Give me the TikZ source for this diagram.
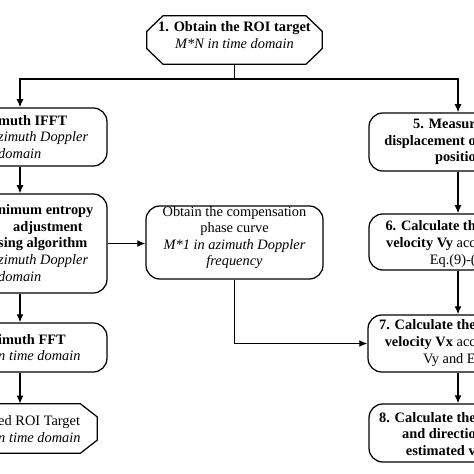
\documentclass[tikz,border=0pt]{standalone}
\usepackage{fontspec}
\setmainfont{Liberation Serif}
\usepackage{tikz}
\usetikzlibrary{arrows.meta,fit}

\tikzset{
  rbox/.style={draw, line width=1pt, rounded corners=11pt, inner sep=0pt},
  cbox/.style={inner sep=0pt},
  txt/.style={inner sep=0pt, font=\fontsize{11.5}{13.3}\selectfont},
  flow/.style={line width=1pt, -{Latex[length=6.5pt,width=5.5pt]}},
}
% outline with cut corners round a named node: name, dx, dy
\newcommand\chamferbox[3]{%
  \draw[line width=1pt] ([xshift=#2]#1.north west) -- ([xshift=-#2]#1.north east)
    -- ([yshift=-#3]#1.north east) -- ([yshift=#3]#1.south east)
    -- ([xshift=-#2]#1.south east) -- ([xshift=#2]#1.south west)
    -- ([yshift=#3]#1.south west) -- ([yshift=-#3]#1.north west) -- cycle;}

\begin{document}
\begin{tikzpicture}[x=0.8pt, y=-0.8pt]
      \useasboundingbox (0,0) rectangle (474,474);
      \clip (0,0) rectangle (474,474);
      % frames
      \node[cbox, txt, align=center, fit={(147,16) (322,64)}] (roi)
        {\textbf{1. Obtain the ROI target}\\\textit{M*N in time domain}};
      \chamferbox{roi}{13pt}{12.5pt}
      \node[rbox, fit={(-60,108) (107,166)}] (ifft) {};
      \node[rbox, fit={(-60,194) (107,293)}] (entropy) {};
      \node[rbox, fit={(-60,323) (107,372)}] (fft) {};
      \node[cbox, fit={(-60,404) (97,453)}] (focused) {};
      \chamferbox{focused}{13.5pt}{10.5pt}
      \node[rbox, txt, align=center, fit={(146,206) (323,279)}] (comp)
        {Obtain the compensation\\phase curve\\\textit{M*1 in azimuth Doppler}\\\textit{frequency}};
      \node[rbox, fit={(369,113) (540,171)}] (measure) {};
      \node[rbox, fit={(369,214) (540,270)}] (vy) {};
      \node[rbox, fit={(368,315) (540,372)}] (vx) {};
      \node[rbox, fit={(369,404) (540,462)}] (speed) {};
      % texts of the cut boxes
      \node[txt, anchor=west, align=left] (ifft-t) at (-2,137)
        {\textbf{muth IFFT}\\\textit{zimuth Doppler}\\\textit{domain}};
      \node[txt, anchor=west, align=left] (entropy-t) at (-2,243)
        {\textbf{nimum entropy}\\\hspace*{12pt}\textbf{adjustment}\\\textbf{sing algorithm}\\\textit{zimuth Doppler}\\\textit{domain}};
      \node[txt, anchor=west, align=left] (fft-t) at (-2,347.5)
        {\textbf{imuth FFT}\\\textit{n time domain}};
      \node[txt, anchor=west, align=left] (focused-t) at (-2,429)
        {ed ROI Target\\\textit{n time domain}};
      \node[txt, anchor=east, align=right] (measure-t) at (476,142)
        {\textbf{5. Measur}\\\textbf{displacement o}\\\textbf{positio}};
      \node[txt, anchor=east, align=right] (vy-t) at (476,244)
        {\textbf{6. Calculate th}\\\textbf{velocity Vy} acc\\Eq.(9)-(};
      \node[txt, anchor=east, align=right] (vx-t) at (476,343)
        {\textbf{7. Calculate the}\\\textbf{velocity Vx} acc\\Vy and E};
      \node[txt, anchor=east, align=right] (speed-t) at (476,434)
        {\textbf{8. Calculate the}\\\textbf{and directio}\\\textbf{estimated v}};
      % connectors
      \coordinate (split) at (234.5,79);
      \coordinate (lcol) at (20,79);
      \coordinate (rcol) at (458,79);
      \draw[line width=1pt] (roi) -- (split);
      \draw[flow] (split) -| (ifft.north -| lcol);
      \draw[flow] (split) -| (measure.north -| rcol);
      \draw[flow] (ifft.south -| lcol) -- (entropy.north -| lcol);
      \draw[flow] (entropy.south -| lcol) -- (fft.north -| lcol);
      \draw[flow] (fft.south -| lcol) -- (focused.north -| lcol);
      \draw[flow] (entropy.east) -- (entropy.east -| comp.west);
      \draw[flow] (comp.south) |- (vx.west);
      \draw[flow] (measure.south -| rcol) -- (vy.north -| rcol);
      \draw[flow] (vy.south -| rcol) -- (vx.north -| rcol);
      \draw[flow] (vx.south -| rcol) -- (speed.north -| rcol);
    \end{tikzpicture}
\end{document}
